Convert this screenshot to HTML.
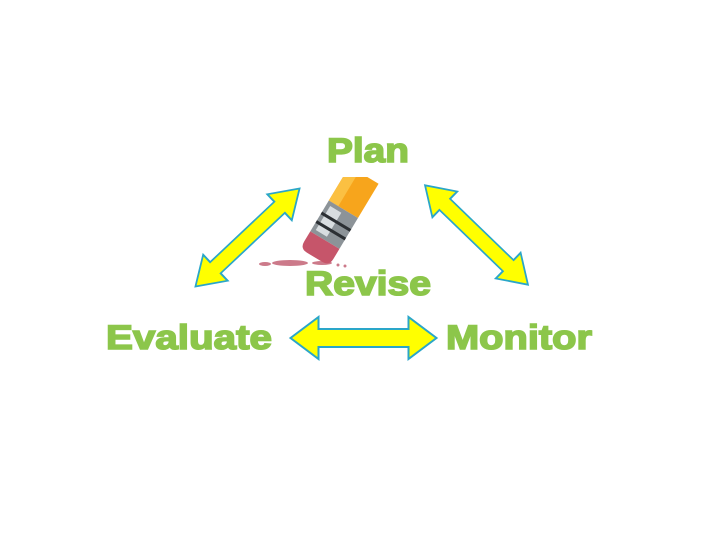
<!DOCTYPE html>
<html><head><meta charset="utf-8"><style>
html,body{margin:0;padding:0;background:#fff}
svg{display:block}
text{font-family:"Liberation Sans",sans-serif;font-weight:bold;fill:#8cc64a;stroke:#8cc64a;stroke-width:1.6}
</style></head><body>
<svg width="720" height="540" viewBox="0 0 720 540">
<defs>
<polygon id="arr" points="-73,0 -45,-21 -45,-9 45,-9 45,-21 73,0 45,21 45,9 -45,9 -45,21" fill="#ffff00" stroke="#2aa6c9" stroke-width="2" stroke-linejoin="miter"/>
</defs>
<g transform="translate(363.5,338)"><use href="#arr"/></g>
<g transform="translate(247.5,237.5) rotate(-43.3) scale(0.98,0.85)"><use href="#arr"/></g>
<g transform="translate(476.5,235) rotate(44) scale(0.98,0.85)"><use href="#arr"/></g>
<g fill="#c05a6e" opacity="0.8">
<ellipse cx="290" cy="263" rx="18" ry="3"/>
<ellipse cx="265" cy="264" rx="6" ry="2"/>
<ellipse cx="322" cy="263" rx="10" ry="2"/>
<circle cx="338" cy="265" r="1.5"/><circle cx="345" cy="266" r="1.5"/>
</g>
<g transform="translate(364,175) rotate(31)">
<rect x="-17" y="0" width="34" height="40" fill="#f7a51c"/>
<rect x="-17" y="0" width="11" height="40" fill="#fbc042"/>
<rect x="-17" y="40" width="34" height="36" fill="#8c9398"/>
<rect x="-13" y="44" width="13" height="28" fill="#d8dde0"/>
<rect x="-17" y="53" width="34" height="3" fill="#2b2f33"/>
<rect x="-17" y="63" width="34" height="3" fill="#2b2f33"/>
<path d="M-17,76 H17 V88 Q17,96 9,96 H-9 Q-17,96 -17,88 Z" fill="#c6556a"/>
</g>
<rect x="300" y="150" width="120" height="27" fill="#fff"/>
<text x="327" y="162" font-size="34" textLength="82" lengthAdjust="spacingAndGlyphs">Plan</text>
<text x="305" y="295" font-size="34" textLength="126" lengthAdjust="spacingAndGlyphs">Revise</text>
<text x="106" y="349" font-size="34" textLength="166" lengthAdjust="spacingAndGlyphs">Evaluate</text>
<text x="446" y="349" font-size="34" textLength="146" lengthAdjust="spacingAndGlyphs">Monitor</text>
</svg>
</body></html>
